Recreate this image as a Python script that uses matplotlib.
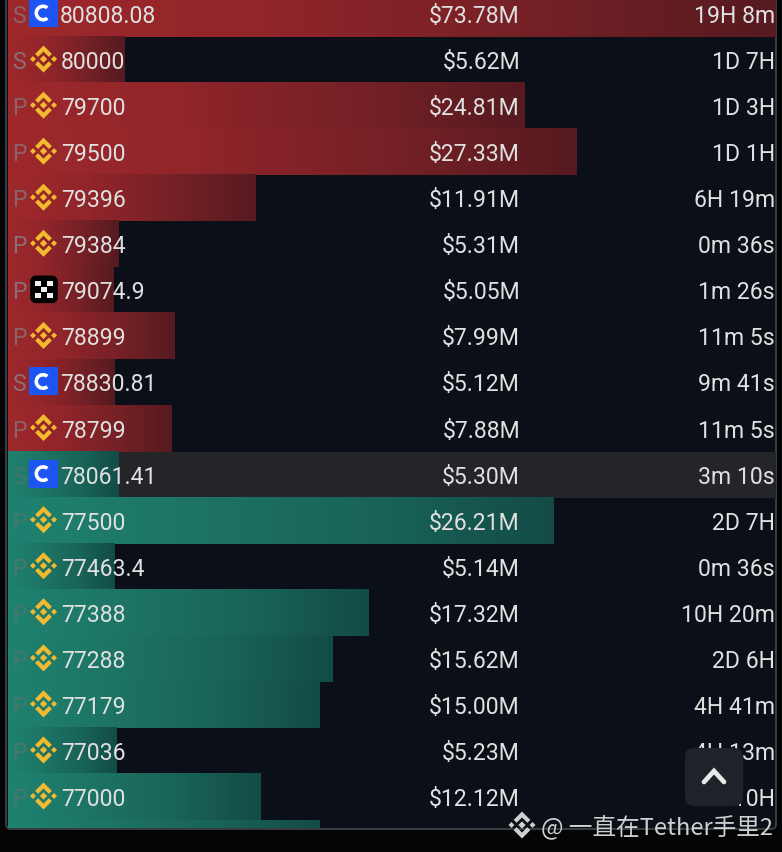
import numpy as np
import matplotlib
matplotlib.use("Agg")
import matplotlib.pyplot as plt
from matplotlib.colors import LinearSegmentedColormap
from matplotlib.patches import Polygon, Rectangle, FancyBboxPatch, Wedge

W, H = 782, 853

sides = ["S", "S", "P", "P", "P", "P", "P", "P", "S", "P", "S", "P", "P", "P", "P", "P", "P", "P"]
exchanges = ["cb", "bn", "bn", "bn", "bn", "bn", "okx", "bn", "cb", "bn", "cb", "bn", "bn", "bn", "bn", "bn", "bn", "bn"]
prices = ["80808.08", "80000", "79700", "79500", "79396", "79384", "79074.9", "78899", "78830.81",
          "78799", "78061.41", "77500", "77463.4", "77388", "77288", "77179", "77036", "77000"]
values = [73.78, 5.62, 24.81, 27.33, 11.91, 5.31, 5.05, 7.99, 5.12, 7.88,
          5.30, 26.21, 5.14, 17.32, 15.62, 15.00, 5.23, 12.12]
times = ["19H 8m", "1D 7H", "1D 3H", "1D 1H", "6H 19m", "0m 36s", "1m 26s", "11m 5s", "9m 41s", "11m 5s",
         "3m 10s", "2D 7H", "0m 36s", "10H 20m", "2D 6H", "4H 41m", "4H 13m", "2D 10H"]
# last row is cut off by the panel edge, only its bar shows
cut_value = 15.0
n_red = 10
current_row = 10

PX_PER_M = 20.8
LEFT, RIGHT, BOTTOM = 8, 776, 829
ROW0, ROW_H = 14, 46.06
BAR_ROW0 = 15  # bars sit about a pixel below the text centre

reds = LinearSegmentedColormap.from_list("r", ["#9e282c", "#90252a", "#762126", "#561a20"])
greens = LinearSegmentedColormap.from_list("g", ["#1f8270", "#1d7464", "#196458", "#134c46"])
grad = np.linspace(0, 1, 256).reshape(1, -1)

fig = plt.figure(figsize=(W / 100, H / 100), dpi=100, facecolor="#030406")

# panel background, pixel coordinates
bg = fig.add_axes([0, 0, 1, 1], zorder=0)
bg.set_xlim(0, W)
bg.set_ylim(H, 0)
bg.axis("off")
bg.add_patch(FancyBboxPatch((6, -20), RIGHT - 6, BOTTOM + 21, boxstyle="round,pad=0,rounding_size=5",
                            fc="#0b0f17", ec="#3c4247", lw=1.3))

# bars, x in $M and y in rows
ax = fig.add_axes([LEFT / W, 1 - BOTTOM / H, (RIGHT - LEFT) / W, BOTTOM / H], zorder=1)
ax.set_facecolor("none")
ax.axis("off")
xmax = (RIGHT - LEFT) / PX_PER_M
ymin = (BOTTOM - BAR_ROW0) / ROW_H
ymax = -BAR_ROW0 / ROW_H
ax.axhspan(current_row - 0.5, current_row + 0.5, color="#232529", lw=0)

all_values = values + [cut_value]
for i, v in enumerate(all_values):
    cmap = reds if i < n_red else greens
    ax.imshow(grad, cmap=cmap, aspect="auto", extent=(0, min(v, xmax), i + 0.5, i - 0.5),
              interpolation="bilinear", zorder=2)
ax.set_xlim(0, xmax)
ax.set_ylim(ymin, ymax)

# text and icons sit on top in pixel coordinates
top = fig.add_axes([0, 0, 1, 1], zorder=2)
top.set_xlim(0, W)
top.set_ylim(H, 0)
top.axis("off")
top.patch.set_alpha(0)

FONT = "Roboto"
FS = 16.6
TXT = "#e0e0e0"


def binance(x, y, r, color):
    # r is half the logo width
    def dia(cx, cy, s):
        top.add_patch(Polygon([(x + cx * r, y + cy * r - s * r), (x + cx * r + s * r, y + cy * r),
                               (x + cx * r, y + cy * r + s * r), (x + cx * r - s * r, y + cy * r)],
                              fc=color, ec="none", zorder=5))
    dia(0, 0, 0.27)
    dia(-0.78, 0, 0.22)
    dia(0.78, 0, 0.22)
    for s in (-1, 1):
        pts = [(0, 1), (0.62, 0.38), (0.4, 0.16), (0, 0.56), (-0.4, 0.16), (-0.62, 0.38)]
        top.add_patch(Polygon([(x + a * r, y + s * b * r) for a, b in pts], fc=color, ec="none", zorder=5))


def coinbase(x, y):
    top.add_patch(Rectangle((x - 14, y - 14), 28.5, 28, fc="#1d55f2", ec="none", zorder=5))
    top.add_patch(Wedge((x, y), 8.5, 50, 310, width=3.6, fc="white", ec="none", zorder=6))


def okx(x, y):
    top.add_patch(FancyBboxPatch((x - 11, y - 11), 22, 22, boxstyle="round,pad=0,rounding_size=3",
                                 mutation_aspect=1, fc="#000000", ec="#000000", lw=4, zorder=5))
    for dx, dy in [(-6, -6), (6, -6), (0, 0), (-6, 6), (6, 6)]:
        top.add_patch(Rectangle((x + dx - 2.6, y + dy - 2.6), 5.2, 5.2, fc="#f0f0f0", ec="none", zorder=6))


for i in range(len(values)):
    y = ROW0 + i * ROW_H
    side_col = "#8a6568" if i < n_red else "#47766b"
    if i < n_red and values[i] < 6:
        side_col = "#8a7073"
    top.text(12.5, y, sides[i], color=side_col, fontsize=FS, family=FONT, va="center_baseline", ha="left")
    if exchanges[i] == "bn":
        binance(43.5, y, 13.5, "#f3ba2f")
        px = 61
    elif exchanges[i] == "cb":
        coinbase(43, y)
        px = 60
    else:
        okx(44, y)
        px = 61
    top.text(px, y, prices[i], color=TXT, fontsize=FS, family=FONT, va="center_baseline", ha="left")
    top.text(520, y, f"${values[i]:.2f}M", color=TXT, fontsize=FS, family=FONT,
             va="center_baseline", ha="right")
    top.text(775, y, times[i], color=TXT, fontsize=FS, family=FONT, va="center_baseline", ha="right")

# scroll button
top.add_patch(FancyBboxPatch((685, 749), 58, 58, boxstyle="round,pad=0,rounding_size=9",
                             fc="#1e2229", ec="none", zorder=7))
top.plot([704, 714, 724], [783, 772, 783], color="#e8e8e8", lw=3.4, solid_capstyle="round",
         solid_joinstyle="miter", zorder=8)

# watermark
binance(522, 826, 13.5, "#cfcfcf")
top.text(541, 827, "@ 一直在Tether手里2", color="#cfcfcf", fontsize=17.05,
         family=["Noto Sans CJK SC", "DejaVu Sans"], va="center", ha="left", zorder=9)

fig.savefig("out.png", dpi=100, facecolor=fig.get_facecolor())
